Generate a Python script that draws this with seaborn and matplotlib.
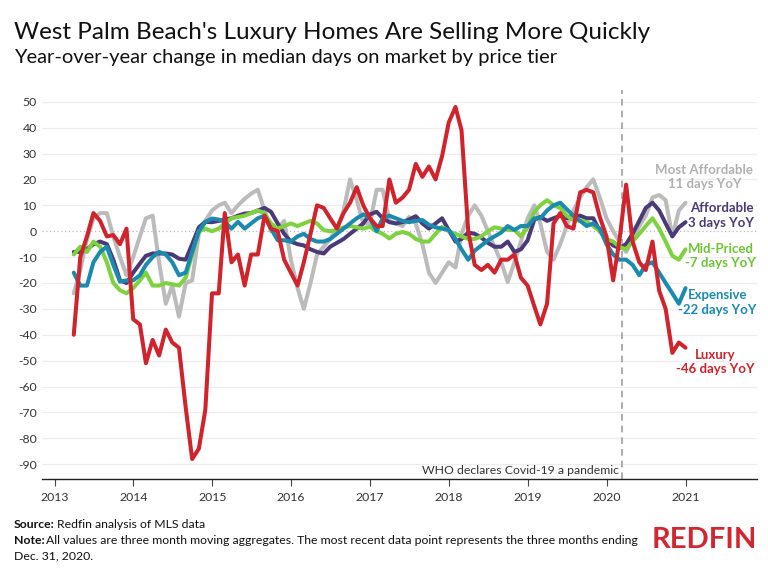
import matplotlib
matplotlib.use("Agg")
import matplotlib.pyplot as plt
import pandas as pd
import seaborn as sns

# ---------------- data (median days on market, YoY change) ----------------
try:
    dates = pd.date_range("2013-03-31", "2020-12-31", freq="ME")
except Exception:
    dates = pd.date_range("2013-03-31", "2020-12-31", freq="M")

most_affordable = [-24, -15, -3, 5, 7, 7, -2, -10, -17, -10, -2, 5, 6, -12, -28, -21, -33, -20, -19, -1,
                   4, 8, 10, 11, 7, 10, 12.5, 14.5, 16, 8, 0, 1, 4, -11, -22, -30, -20, -9, -6, -3,
                   1, 8, 20, 12, 3, 3, 16, 16, 4, 3, 2, 5.5, 3, -5, -16, -20, -16, -12, -14, -1,
                   6, 10, 6, 0, -6, -12, -19.6, -12, -4, 5, 10, 3, -8, -11, -5, 2, 8, 13, 17, 20,
                   13, 5, 0, -4, -8, -3, 2, 6, 13, 14, 12, -2, 8, 11]
affordable = [-8, -8, -7, -5, -4, -5, -11, -19, -20, -16, -12.5, -9.5, -8.6, -8.6, -8.6, -9, -10.6, -11, -5, 1.5,
              3.6, 3.5, 4, 4.5, 5, 6, 6.8, 7, 8, 9, 7.5, 3, -1, -4, -5, -5.5, -7, -8, -8.6, -6,
              -4.5, -3, -1, 1, 3, 6.5, 7.5, 5, 3.5, 3, 3.5, 4.5, 5.8, 3, 1, 3, 5, 0.4, -4, -3,
              -0.5, -1, -2.5, -4.5, -6, -6, -4, -8, -7, -3.5, 4.5, 5.5, 4, 5, 6, 5, 6, 6, 5, 5,
              0, -3, -5.5, -6.5, -5, -1, 4, 9, 11, 8, 3, -2, 1.5, 3.5]
mid_priced = [-9, -6, -8, -4, -6, -12, -20, -22.8, -24, -22, -19, -16, -21, -21, -20, -20.5, -21, -18, -9, 0,
              1, 0, 1, 3, 5, 5.5, 6, 7, 8, 7, 3, 1, 2, 3, 2, 3, 4, 3, 0.4, 0,
              0.5, 1.5, 2, 1.5, 1, 1.7, 0, -1, -2.8, -1, -0.3, -1, -3, -4, -4, -1, 1.7, 0, -1, -2,
              -3, -3, -2, 0, 1.5, 1, 0.5, 0.5, -2, 1.5, 7.5, 10, 12, 10, 9, 6, 4.3, 4, 3.6, 2,
              0, -3, -4, -6, -7, -4, -1, 2, 5, 1, -4, -9.5, -11, -7]
expensive = [-16, -21, -21, -12, -8, -6, -13, -19.5, -19, -19, -17, -13, -10, -8, -9, -12, -17, -16, -8, 0,
             3.6, 4.9, 4.5, 3.6, 1, 3.6, 1, 3, 5, 6, 1, -3.5, -3.5, -4, -2, -1, -3, -4, -4, -3,
             -1, 1, 3, 5, 6.5, 5, 0, 5, 6, 5, 4, 3.5, 4, 4.3, 2.5, 1.5, 1, 0.5, -3, -7,
             -11, -7.5, -5.5, -3.5, -2, -0.5, 2, 0.5, 2, 2, 5, 5, 8, 10, 11, 8.5, 6, 4, 2, 3,
             1, -5, -9, -11, -11, -13, -17, -13, -12, -16, -20, -24, -28, -22]
luxury = [-40, -10, -2, 7, 4, -2, -1.5, -5, 1, -34, -36, -51, -42, -48, -38, -43, -45, -68, -88, -84,
          -69, -24, -24, 7, -12, -9, -21, -9, -9, 6, 1, 0, -11, -16, -21, -12, -1, 10, 9, 5,
          1, 7, 11, 17, 10, 5, 2, 2, 20, 11, 13, 16, 26, 21, 25, 20, 29, 42, 48, 39,
          0, -13, -15, -13, -16, -11, -11, -9, -18, -21, -29, -36, -28, 3, 7, 2, 1, 15, 16, 15,
          5.5, -2, -19, -3.5, 18, -4, -12, -15, -4, -23, -30, -47, -43, -45]

tiers = ["Most Affordable", "Affordable", "Mid-Priced", "Expensive", "Luxury"]
series = [most_affordable, affordable, mid_priced, expensive, luxury]
end_labels = ["11 days YoY", "3 days YoY", "-7 days YoY", "-22 days YoY", "-46 days YoY"]
label_y = [21, 6, -9.5, -27.5, -50.5]
label_x = ["2021-03-28", "2021-06-15", "2021-06-11", "2021-05-28", "2021-05-19"]
palette = {"Most Affordable": "#BBBBBB", "Affordable": "#4B3A78", "Mid-Priced": "#7ED23F",
           "Expensive": "#1A8BAE", "Luxury": "#D0232B"}
label_colors = {"Most Affordable": "#B0B0B0", "Affordable": "#4B3A78", "Mid-Priced": "#6CC633",
                "Expensive": "#1A8BAE", "Luxury": "#D0232B"}
y_ticks = list(range(-90, 51, 10))
year_ticks = list(range(2013, 2022))
covid_date = pd.Timestamp("2020-03-11")

df = pd.concat([pd.DataFrame({"date": dates, "tier": t, "value": v}) for t, v in zip(tiers, series)],
               ignore_index=True)

# ---------------- plotting ----------------
sns.set_style("white")
plt.rcParams["font.family"] = ["Lato", "DejaVu Sans"]

fig = plt.figure(figsize=(7.68, 5.76), dpi=100)
ax = fig.add_axes([0.055, 0.168, 0.931, 0.676])

for y in y_ticks:
    if y == 0:
        ax.axhline(0, color="#BBBBBB", lw=0.9, ls=(0, (1, 2)), zorder=1)
    else:
        ax.axhline(y, color="#EDEDED", lw=0.9, zorder=1)

sns.lineplot(data=df, x="date", y="value", hue="tier", hue_order=tiers, palette=palette,
             linewidth=2.9, legend=False, ax=ax, zorder=3)

ax.axvline(covid_date, color="#A0A0A0", lw=1.2, ls=(0, (4, 3)), zorder=2)
ax.text(covid_date - pd.Timedelta(days=12), -92.6, "WHO declares Covid-19 a pandemic",
        ha="right", va="center", fontsize=8.8, color="#333333", zorder=4)

ax.set_ylim(-95.8, 54.6)
ax.set_xlim(pd.Timestamp("2012-11-05"), pd.Timestamp("2021-11-28"))
ax.set_yticks(y_ticks)
ax.set_yticklabels([str(v) for v in y_ticks])
ax.set_xticks([pd.Timestamp(f"{y}-01-01") for y in year_ticks])
ax.set_xticklabels([str(y) for y in year_ticks])
ax.set_xlabel("")
ax.set_ylabel("")

for s in ["top", "right", "left"]:
    ax.spines[s].set_visible(False)
ax.spines["bottom"].set_color("#222222")
ax.spines["bottom"].set_linewidth(1.0)
ax.tick_params(axis="x", length=5, width=0.8, color="#444444", labelsize=8.8,
               labelcolor="#333333", pad=4, bottom=True)
ax.tick_params(axis="y", length=0, labelsize=8.8, labelcolor="#333333", pad=4)

for t, lab, ly, lx in zip(tiers, end_labels, label_y, label_x):
    ax.text(pd.Timestamp(lx), ly, f"{t}\n{lab}", ha="center", va="center", fontsize=9.5,
            fontweight="bold", color=label_colors[t], linespacing=1.25, zorder=4)

# ---------------- titles & footer ----------------
fig.text(0.018, 0.944, "West Palm Beach's Luxury Homes Are Selling More Quickly",
         fontsize=17.5, color="#111111", ha="left", va="center")
fig.text(0.018, 0.901, "Year-over-year change in median days on market by price tier",
         fontsize=14.5, color="#111111", ha="left", va="center")

fig.canvas.draw()
renderer = fig.canvas.get_renderer()

def label_pair(x, y, bold, rest):
    t1 = fig.text(x, y, bold, fontsize=8.8, fontweight="bold", color="#111111", ha="left", va="center")
    bb = t1.get_window_extent(renderer=renderer)
    x2 = (bb.x1 + 2) / fig.bbox.width
    fig.text(x2, y, rest, fontsize=8.8, color="#111111", ha="left", va="center")

label_pair(0.018, 0.090, "Source:", "Redfin analysis of MLS data")
label_pair(0.018, 0.061, "Note:", "All values are three month moving aggregates. The most recent data point "
           "represents the three months ending")
fig.text(0.018, 0.035, "Dec. 31, 2020.", fontsize=8.8, color="#111111", ha="left", va="center")

fig.text(0.986, 0.0625, "REDFIN", fontsize=21, fontweight="bold", color="#D22630",
         ha="right", va="center")

fig.savefig("out.png", dpi=100)
